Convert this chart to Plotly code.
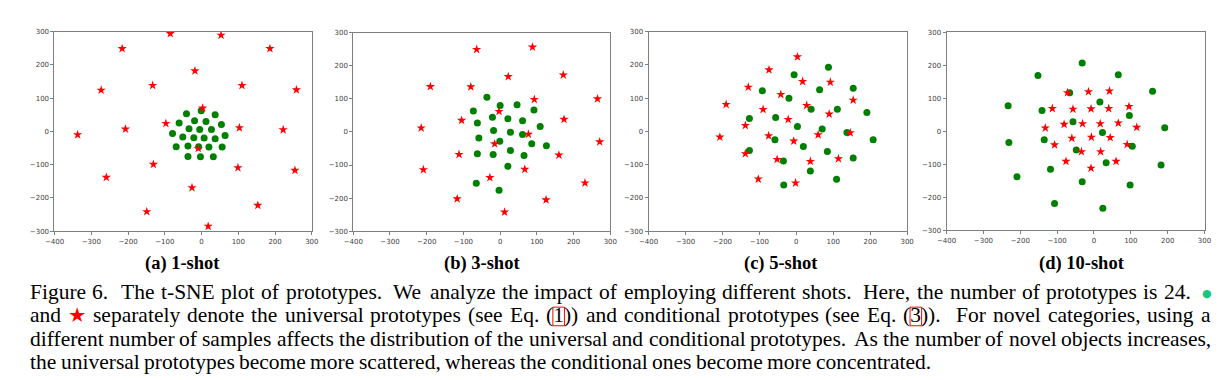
import plotly.graph_objects as go

# ---------------- data ----------------
# universal prototypes (green circles) and conditional prototypes (red stars)
a_univ_x = [-1, -41, 37, -61, -19, 12, 54, -34, -5, 27, -79, 64, -51, -21, 7, 37, -69, -37, -8, 20, 56, -37, -3, 32]
a_univ_y = [62, 53, 50, 25, 32, 30, 21, 8, 6, 6, -6, -12, -17, -19, -20, -22, -46, -44, -46, -47, -47, -75, -76, -76]
a_cond_x = [-85, 53, -216, 186, -18, -133, 110, -273, 258, 3, -97, -207, 103, 222, -337, -9, -131, 99, 254, -259, -26, 153, -149, 18]
a_cond_y = [294, 289, 249, 249, 182, 138, 138, 124, 125, 70, 24, 7, 11, 5, -10, -51, -99, -109, -117, -138, -169, -222, -241, -285]

b_univ_x = [-36, 0, 46, 92, -73, -21, 21, 61, -62, 109, -18, 28, 61, -58, -1, 86, 126, 28, -62, -19, 65, 21, -65, -3]
b_univ_y = [105, 80, 82, 66, 63, 44, 40, 34, 27, 16, 4, -1, -8, -18, -28, -36, -42, -56, -66, -68, -71, -104, -155, -176]
b_cond_x = [-64, 88, 22, 172, -190, -80, 93, 265, -3, -105, 174, -215, 77, -15, 271, -112, 160, -209, 67, -28, 231, -117, 125, 12]
b_cond_y = [249, 256, 167, 172, 137, 136, 98, 100, 62, 35, 38, 12, -7, -36, -30, -68, -70, -114, -113, -138, -154, -202, -205, -242]

c_univ_x = [87, -6, 154, 63, -92, -20, 40, 111, 191, -56, -127, 3, 70, 137, -58, 208, 19, -127, 84, 154, -35, 38, 109, -34]
c_univ_y = [193, 170, 130, 125, 122, 100, 67, 67, 57, 42, 39, 15, 7, -3, -25, -25, -45, -57, -60, -80, -89, -119, -144, -161]
c_cond_x = [3, -74, 17, 92, -130, -42, 154, -190, 28, -90, 89, -22, -138, -75, 59, 146, -207, -7, -138, -52, 114, 38, -103, -2]
c_cond_y = [224, 185, 150, 148, 133, 111, 94, 81, 78, 66, 52, 36, 18, -13, -10, -4, -17, -29, -67, -84, -82, -90, -143, -155]

d_univ_x = [-32, -152, 66, 159, -66, 16, -233, -141, 96, -57, 192, 23, -231, -135, 104, -48, 33, -118, 182, -209, -32, 98, -107, 24]
d_univ_y = [207, 169, 171, 121, 117, 89, 77, 63, 48, 29, 11, -4, -34, -26, -45, -57, -95, -115, -102, -138, -153, -163, -219, -233]
d_cond_x = [-72, -15, 42, -113, -57, -8, 40, 95, -132, -81, -31, 17, 66, 116, -60, -7, 44, -107, 90, -34, 18, -76, 60, -8]
d_cond_y = [117, 120, 122, 69, 67, 68, 69, 75, 10, 21, 23, 23, 25, 12, -21, -18, -19, -41, -40, -62, -62, -91, -91, -112]

subcaptions = ["(a) 1-shot", "(b) 3-shot", "(c) 5-shot", "(d) 10-shot"]

x_ticks = [-400, -300, -200, -100, 0, 100, 200, 300]
x_tick_labels = ["\u2212400", "\u2212300", "\u2212200", "\u2212100", "0", "100", "200", "300"]
y_ticks = [-300, -200, -100, 0, 100, 200, 300]
y_tick_labels = ["\u2212300", "\u2212200", "\u2212100", "0", "100", "200", "300"]

caption_lines = [
    "Figure 6. The t-SNE plot of prototypes. We analyze the impact of employing different shots. Here, the number of prototypes is 24. \u25cf",
    "and \u2605 separately denote the universal prototypes (see Eq. ([1])) and conditional prototypes (see Eq. ([3])). For novel categories, using a",
    "different number of samples affects the distribution of the universal and conditional prototypes. As the number of novel objects increases,",
    "the universal prototypes become more scattered, whereas the conditional ones become more concentrated.",
]

# ---------------- layout helpers ----------------
W_PX, H_PX = 1220, 380


def px(x):
    return x / W_PX


def py(y):
    return 1 - y / H_PX


panels = [
    (a_univ_x, a_univ_y, a_cond_x, a_cond_y),
    (b_univ_x, b_univ_y, b_cond_x, b_cond_y),
    (c_univ_x, c_univ_y, c_cond_x, c_cond_y),
    (d_univ_x, d_univ_y, d_cond_x, d_cond_y),
]
dom_x = [(37, 298), (340, 600.7), (639.5, 901.7), (941.7, 1203.3)]
dom_y = [(20, 224), (21, 224), (20, 224), (20.7, 223)]
sub_cx = [167, 471, 774, 1079]

fig = go.Figure()
layout = dict(
    width=W_PX, height=H_PX,
    margin=dict(l=0, r=0, t=0, b=0),
    paper_bgcolor="white", plot_bgcolor="white",
    showlegend=False,
)

axis_common = dict(
    showline=True, mirror=True, linecolor="#7f7f7f", linewidth=1,
    ticks="outside", ticklen=3, tickwidth=1, tickcolor="#7f7f7f",
    showgrid=False, zeroline=False,
    tickfont=dict(family="DejaVu Sans", size=7, color="#404040"),
)

for i, (ux, uy, cx, cy) in enumerate(panels):
    sfx = "" if i == 0 else str(i + 1)
    fig.add_trace(go.Scatter(
        x=ux, y=uy, mode="markers", xaxis="x" + sfx, yaxis="y" + sfx,
        marker=dict(symbol="circle", size=7, color="green", line=dict(width=0)),
        hoverinfo="skip"))
    fig.add_trace(go.Scatter(
        x=cx, y=cy, mode="markers", xaxis="x" + sfx, yaxis="y" + sfx,
        marker=dict(symbol="star", size=7, color="red", line=dict(width=0)),
        hoverinfo="skip"))
    layout["xaxis" + sfx] = dict(
        axis_common, domain=[px(dom_x[i][0]), px(dom_x[i][1])], range=[-400, 300],
        tickmode="array", tickvals=x_ticks, ticktext=x_tick_labels,
        anchor="y" + sfx)
    layout["yaxis" + sfx] = dict(
        axis_common, domain=[py(dom_y[i][1]), py(dom_y[i][0])], range=[-300, 300],
        tickmode="array", tickvals=y_ticks, ticktext=y_tick_labels,
        anchor="x" + sfx)

annotations = []
shapes = []

# sub-captions
for i, txt in enumerate(subcaptions):
    annotations.append(dict(
        x=px(sub_cx[i]), y=py(257), xref="paper", yref="paper",
        text="<b>" + txt + "</b>", showarrow=False, xanchor="center", yanchor="middle",
        font=dict(family="Liberation Serif", size=18.5, color="black")))

# figure caption, justified word by word (Times metrics)
FS = 21.5
STAR_FS = 20.5
TNR = {' ': 250, 'a': 444, 'b': 500, 'c': 444, 'd': 500, 'e': 444, 'f': 333, 'g': 500,
       'h': 500, 'i': 278, 'j': 278, 'k': 500, 'l': 278, 'm': 778, 'n': 500, 'o': 500,
       'p': 500, 'q': 500, 'r': 333, 's': 389, 't': 278, 'u': 500, 'v': 500, 'w': 722,
       'x': 500, 'y': 500, 'z': 444, 'A': 722, 'E': 611, 'F': 556, 'H': 722, 'N': 722,
       'S': 556, 'T': 611, 'W': 944, '.': 250, ',': 250, '(': 333, ')': 333, '-': 333}
DOT_W = 7.0


def text_w(s):
    return sum(TNR.get(c, 500) for c in s) * FS / 1000.0


def tok_w(t):
    if t == "\u2605":
        return 0.838 * STAR_FS
    if t == "\u25cf":
        return DOT_W
    return text_w(t.replace("[", "").replace("]", ""))


LEFT, RIGHT = 12.0, 1209.0
baselines = [293, 317, 341, 365]

for li, line in enumerate(caption_lines):
    toks = line.split(" ")
    widths = [tok_w(t) for t in toks]
    gaps = []
    for t in toks[:-1]:
        sent = t.endswith(".") and t != "Eq."
        gaps.append(((0.25 + (0.111 if sent else 0.0)) * FS, 3.0 if sent else 1.0))
    natural = sum(widths) + sum(g[0] for g in gaps)
    last = li == len(caption_lines) - 1
    slack = 0.0 if last else (RIGHT - LEFT - natural)
    tot_weight = sum(g[1] for g in gaps) or 1.0
    base = baselines[li]
    ymid = base - 0.3375 * FS
    x = LEFT
    for k, t in enumerate(toks):
        if t == "\u2605":
            annotations.append(dict(
                x=px(x), y=py(base - 0.36 * STAR_FS), xref="paper", yref="paper", text=t,
                showarrow=False, xanchor="left", yanchor="middle", borderpad=0, borderwidth=0,
                font=dict(family="DejaVu Sans", size=STAR_FS, color="red")))
        elif t == "\u25cf":
            annotations.append(dict(
                x=px(x + DOT_W / 2), y=py(base - 5.5), xref="paper", yref="paper", text=t,
                showarrow=False, xanchor="center", yanchor="middle", borderpad=0, borderwidth=0,
                font=dict(family="DejaVu Sans", size=11, color="#15c77e")))
        else:
            shown = t.replace("[", "").replace("]", "")
            annotations.append(dict(
                x=px(x), y=py(ymid), xref="paper", yref="paper", text=shown,
                showarrow=False, xanchor="left", yanchor="middle", borderpad=0, borderwidth=0,
                font=dict(family="Liberation Serif", size=FS, color="black")))
            if "[" in t:
                pre = t[:t.index("[")]
                dig = t[t.index("[") + 1:t.index("]")]
                bx0 = x + text_w(pre) - 0.5
                bx1 = x + text_w(pre + dig) + 0.5
                shapes.append(dict(
                    type="rect", xref="paper", yref="paper",
                    x0=px(bx0), x1=px(bx1), y0=py(base + 3.5), y1=py(base - 15.5),
                    line=dict(color="red", width=1), fillcolor="rgba(0,0,0,0)"))
        if k < len(gaps):
            x += widths[k] + gaps[k][0] + slack * gaps[k][1] / tot_weight

layout["annotations"] = annotations
layout["shapes"] = shapes
fig.update_layout(**layout)
fig.write_html("out.html")
